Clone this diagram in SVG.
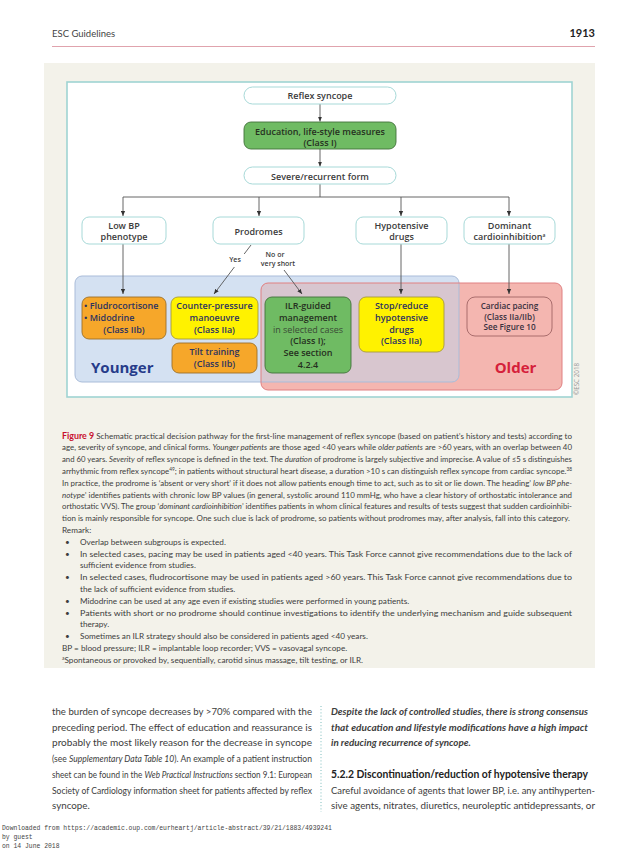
<svg xmlns="http://www.w3.org/2000/svg" width="638" height="851" viewBox="0 0 638 851">
<defs>
<style>
.n{font-family:"Open Sans","DejaVu Sans",sans-serif;font-weight:600;font-size:9px;fill:#3b3b3b;text-anchor:middle}
.nd{fill:#2c3360}
.lt{font-weight:400;fill:#444}
.box{fill:#fff;stroke:#a7d9d8;stroke-width:1}
.org{fill:#f6a72a;stroke:#9c7128;stroke-width:0.9}
.yel{fill:#fff200;stroke:#a69a3a;stroke-width:0.9}
.grn{fill:#6fbb63;stroke:#42723a;stroke-width:0.9}
.conn{stroke:#555;stroke-width:0.9;fill:none}
.cap{font-family:Lato,"Open Sans",sans-serif;font-size:8.2px;fill:#3d3d3d}
.body{font-family:Lato,"Open Sans",sans-serif;font-size:9.8px;fill:#3d3d3d}
.i{font-style:italic}
</style>
<marker id="ah" viewBox="0 0 5 5" refX="5" refY="2.5" markerWidth="5" markerHeight="5" orient="auto" markerUnits="userSpaceOnUse"><path d="M0,0.4 L5,2.5 L0,4.6 z" fill="#333"/></marker>
<clipPath id="blueclip"><rect x="75" y="276" width="384" height="106" rx="7"/></clipPath>
</defs>
<rect width="638" height="851" fill="#fff"/>
<g id="header">
<text x="52" y="36.5" font-family="Lato,sans-serif" font-size="9.5" fill="#444">ESC Guidelines</text>
<text x="595" y="36.5" font-family="Lato,sans-serif" font-size="11" font-weight="700" fill="#222" text-anchor="end">1913</text>
<line x1="52" y1="46.5" x2="595" y2="46.5" stroke="#e0a3ad" stroke-width="1"/>
</g>
<rect x="44" y="63" width="551" height="605" fill="#f3f2ea"/>
<rect x="67" y="82" width="505" height="315" fill="#fff" stroke="#9fd4d3" stroke-width="1.6"/>
<g id="regions">
<rect x="75" y="276" width="384" height="106" rx="7" fill="#d4e1f2"/>
<rect x="261" y="283" width="301" height="107" rx="7" fill="#f4b6b0"/>
<rect x="261" y="283" width="301" height="107" rx="7" fill="#d8c6cf" clip-path="url(#blueclip)"/>
<rect x="75" y="276" width="384" height="106" rx="7" fill="none" stroke="#a9bcd9" stroke-width="1"/>
<rect x="261" y="283" width="301" height="107" rx="7" fill="none" stroke="#e08082" stroke-width="1"/>
<text x="91" y="373" font-family="'Open Sans',sans-serif" font-weight="700" font-size="15" fill="#263b8a">Younger</text>
<text x="515.5" y="373" font-family="'Open Sans',sans-serif" font-weight="700" font-size="15" fill="#d5203a" text-anchor="middle">Older</text>
</g>
<g id="connectors">
<path class="conn" d="M320,104 V121.5" marker-end="url(#ah)"/>
<path class="conn" d="M320,149 V166.5" marker-end="url(#ah)"/>
<path class="conn" d="M320,184 V197 M123,197 H509"/>
<path class="conn" d="M123,197 V216" marker-end="url(#ah)"/>
<path class="conn" d="M259,197 V216" marker-end="url(#ah)"/>
<path class="conn" d="M401,197 V216" marker-end="url(#ah)"/>
<path class="conn" d="M509,197 V216" marker-end="url(#ah)"/>
<path class="conn" d="M123,244 V294" marker-end="url(#ah)"/>
<path class="conn" d="M401,244 V294" marker-end="url(#ah)"/>
<path class="conn" d="M509,244 V294" marker-end="url(#ah)"/>
<path class="conn" d="M251,245 L244.2,254"/>
<path class="conn" d="M234.4,267 L214,294" marker-end="url(#ah)"/>
<path class="conn" d="M284,270 L302,294" marker-end="url(#ah)"/>
<text x="235" y="262" font-family="'Open Sans',sans-serif" font-weight="600" font-size="7" fill="#3b3b3b" text-anchor="middle">Yes</text>
<text x="275" y="257" font-family="'Open Sans',sans-serif" font-weight="600" font-size="7" fill="#3b3b3b" text-anchor="middle">No or</text>
<text x="278" y="265.5" font-family="'Open Sans',sans-serif" font-weight="600" font-size="7" fill="#3b3b3b" text-anchor="middle">very short</text>
</g>
<g id="reflex"><rect class="box" x="244" y="87" width="152" height="17" rx="8.5"/><text class="n" x="320" y="99">Reflex syncope</text></g>
<g id="education"><rect class="grn" x="244" y="122" width="152" height="27" rx="7"/><text class="n" x="320" y="135" style="fill:#26301f">Education, life-style measures</text><text class="n" x="320" y="145.5" style="fill:#26301f">(Class I)</text></g>
<g id="severe"><rect class="box" x="244" y="167" width="152" height="17" rx="8.5"/><text class="n" x="320" y="179.5">Severe/recurrent form</text></g>
<g id="lowbp"><rect class="box" x="82" y="217" width="84" height="27" rx="7"/><text class="n" x="124" y="229">Low BP</text><text class="n" x="124" y="240">phenotype</text></g>
<g id="prodromes"><rect class="box" x="213" y="217" width="91" height="27" rx="7"/><text class="n" x="258.5" y="235">Prodromes</text></g>
<g id="hypotensive"><rect class="box" x="356" y="217" width="91" height="27" rx="7"/><text class="n" x="401.5" y="229">Hypotensive</text><text class="n" x="401.5" y="240">drugs</text></g>
<g id="dominant"><rect class="box" x="464" y="217" width="91" height="27" rx="7"/><text class="n" x="509.5" y="229">Dominant</text><text class="n" x="509.5" y="240">cardioinhibition<tspan font-size="5" dy="-3">a</tspan></text></g>
<g id="fludro"><rect class="org" x="82" y="297" width="84" height="42" rx="7"/><text class="n nd" x="84" y="308.5" style="text-anchor:start">• Fludrocortisone</text><text class="n nd" x="84" y="320.5" style="text-anchor:start">• Midodrine</text><text class="n nd" x="124" y="333">(Class IIb)</text></g>
<g id="counter"><rect class="yel" x="171" y="297" width="87" height="42" rx="7"/><text class="n nd" x="214.5" y="308.5">Counter-pressure</text><text class="n nd" x="214.5" y="320.5">manoeuvre</text><text class="n nd" x="214.5" y="333">(Class IIa)</text></g>
<g id="tilt"><rect class="org" x="172" y="343" width="85" height="30" rx="7"/><text class="n nd" x="214.5" y="355">Tilt training</text><text class="n nd" x="214.5" y="366.5">(Class IIb)</text></g>
<g id="ilr"><rect class="grn" x="265" y="297" width="86" height="76" rx="7"/><text class="n" x="308" y="309" style="fill:#26301f">ILR-guided</text><text class="n" x="308" y="321" style="fill:#26301f">management</text><text class="n lt" x="308" y="332.5" style="fill:#3a4a36">in selected cases</text><text class="n" x="308" y="344" style="fill:#26301f">(Class I);</text><text class="n" x="308" y="356" style="fill:#26301f">See section</text><text class="n" x="308" y="367.5" style="fill:#26301f">4.2.4</text></g>
<g id="stop"><rect class="yel" x="359" y="297" width="85" height="55" rx="7"/><text class="n nd" x="401.5" y="309">Stop/reduce</text><text class="n nd" x="401.5" y="321">hypotensive</text><text class="n nd" x="401.5" y="332.5">drugs</text><text class="n nd" x="401.5" y="344">(Class IIa)</text></g>
<g id="pacing"><rect x="467" y="297" width="85" height="39" rx="8" fill="none" stroke="#a06464" stroke-width="0.9"/><text class="n" x="509.5" y="309" style="font-size:8.2px;fill:#3a3140">Cardiac pacing</text><text class="n" x="509.5" y="319.5" style="font-size:8.2px;fill:#3a3140">(Class IIa/IIb)</text><text class="n" x="509.5" y="330" style="font-size:8.2px;fill:#3a3140">See Figure 10</text></g>
<text x="579" y="379" transform="rotate(-90 579 379)" font-family="'Open Sans',sans-serif" font-size="6.3" fill="#9a9a9a" text-anchor="middle">©ESC 2018</text>
<g id="caption" class="cap">
<text x="62" y="438.5" textLength="510" lengthAdjust="spacingAndGlyphs"><tspan font-weight="700" fill="#c8102e" font-size="9">Figure 9</tspan> Schematic practical decision pathway for the first-line management of reflex syncope (based on patient’s history and tests) according to</text>
<text x="62" y="450.3" textLength="510" lengthAdjust="spacingAndGlyphs">age, severity of syncope, and clinical forms. <tspan class="i">Younger patients</tspan> are those aged &lt;40 years while <tspan class="i">older patients</tspan> are &gt;60 years, with an overlap between 40</text>
<text x="62" y="462.1" textLength="510" lengthAdjust="spacingAndGlyphs">and 60 years. <tspan class="i">Severity</tspan> of reflex syncope is defined in the text. The <tspan class="i">duration</tspan> of prodrome is largely subjective and imprecise. A value of ≤5 s distinguishes</text>
<text x="62" y="473.9" textLength="510" lengthAdjust="spacingAndGlyphs">arrhythmic from reflex syncope<tspan font-size="5" dy="-3">49</tspan><tspan dy="3">; in patients without structural heart disease, a duration &gt;10 s can distinguish reflex syncope from cardiac syncope.</tspan><tspan font-size="5" dy="-3">38</tspan></text>
<text x="62" y="485.7" textLength="510" lengthAdjust="spacingAndGlyphs">In practice, the prodrome is ‘absent or very short’ if it does not allow patients enough time to act, such as to sit or lie down. The heading’ <tspan class="i">low BP phe-</tspan></text>
<text x="62" y="497.5" textLength="510" lengthAdjust="spacingAndGlyphs"><tspan class="i">notype</tspan>’ identifies patients with chronic low BP values (in general, systolic around 110 mmHg, who have a clear history of orthostatic intolerance and</text>
<text x="62" y="509.3" textLength="510" lengthAdjust="spacingAndGlyphs">orthostatic VVS). The group ‘<tspan class="i">dominant cardioinhibition</tspan>’ identifies patients in whom clinical features and results of tests suggest that sudden cardioinhibi-</text>
<text x="62" y="521.1" textLength="508" lengthAdjust="spacingAndGlyphs">tion is mainly responsible for syncope. One such clue is lack of prodrome, so patients without prodromes may, after analysis, fall into this category.</text>
<text x="62" y="532.9">Remark:</text>
<text x="65" y="544.7">•</text><text x="80" y="544.7">Overlap between subgroups is expected.</text>
<text x="65" y="556.5">•</text><text x="80" y="556.5" textLength="492" lengthAdjust="spacingAndGlyphs">In selected cases, pacing may be used in patients aged &lt;40 years. This Task Force cannot give recommendations due to the lack of</text>
<text x="80" y="568.3">sufficient evidence from studies.</text>
<text x="65" y="580.1">•</text><text x="80" y="580.1" textLength="492" lengthAdjust="spacingAndGlyphs">In selected cases, fludrocortisone may be used in patients aged &gt;60 years. This Task Force cannot give recommendations due to</text>
<text x="80" y="591.9">the lack of sufficient evidence from studies.</text>
<text x="65" y="603.7">•</text><text x="80" y="603.7">Midodrine can be used at any age even if existing studies were performed in young patients.</text>
<text x="65" y="615.5">•</text><text x="80" y="615.5" textLength="492" lengthAdjust="spacingAndGlyphs">Patients with short or no prodrome should continue investigations to identify the underlying mechanism and guide subsequent</text>
<text x="80" y="627.3">therapy.</text>
<text x="65" y="639.1">•</text><text x="80" y="639.1">Sometimes an ILR strategy should also be considered in patients aged &lt;40 years.</text>
<text x="62" y="650.9">BP = blood pressure; ILR = implantable loop recorder; VVS = vasovagal syncope.</text>
<text x="62" y="662.7"><tspan font-size="5" dy="-3">a</tspan><tspan dy="3">Spontaneous or provoked by, sequentially, carotid sinus massage, tilt testing, or ILR.</tspan></text>
</g>
<g id="bodytext" class="body">
<text x="52" y="715" textLength="260" lengthAdjust="spacingAndGlyphs">the burden of syncope decreases by &gt;70% compared with the</text>
<text x="52" y="730.7" textLength="260" lengthAdjust="spacingAndGlyphs">preceding period. The effect of education and reassurance is</text>
<text x="52" y="746.4" textLength="260" lengthAdjust="spacingAndGlyphs">probably the most likely reason for the decrease in syncope</text>
<text x="52" y="762.1" textLength="260" lengthAdjust="spacingAndGlyphs">(see <tspan class="i">Supplementary Data Table 10</tspan>). An example of a patient instruction</text>
<text x="52" y="777.8" textLength="260" lengthAdjust="spacingAndGlyphs">sheet can be found in the <tspan class="i">Web Practical Instructions</tspan> section 9.1: European</text>
<text x="52" y="793.5" textLength="260" lengthAdjust="spacingAndGlyphs">Society of Cardiology information sheet for patients affected by reflex</text>
<text x="52" y="809.2">syncope.</text>
<line x1="321" y1="706" x2="321" y2="812" stroke="#7cbcbc" stroke-width="1" stroke-dasharray="1 2.2"/>
<text x="331" y="715" font-weight="700" font-style="italic" textLength="257" lengthAdjust="spacingAndGlyphs">Despite the lack of controlled studies, there is strong consensus</text>
<text x="331" y="730.7" font-weight="700" font-style="italic" textLength="257" lengthAdjust="spacingAndGlyphs">that education and lifestyle modifications have a high impact</text>
<text x="331" y="746.4" font-weight="700" font-style="italic">in reducing recurrence of syncope.</text>
<text x="331" y="777.8" font-weight="700" font-size="10.5" textLength="257" lengthAdjust="spacingAndGlyphs" fill="#222">5.2.2 Discontinuation/reduction of hypotensive therapy</text>
<text x="331" y="793.5" textLength="264" lengthAdjust="spacingAndGlyphs">Careful avoidance of agents that lower BP, i.e. any antihyperten-</text>
<text x="331" y="809.2" textLength="264" lengthAdjust="spacingAndGlyphs">sive agents, nitrates, diuretics, neuroleptic antidepressants, or</text>
</g>
<g id="footer" font-family="'Liberation Mono',monospace" font-size="6.4" fill="#444">
<text x="2" y="830">Downloaded from https://academic.oup.com/eurheartj/article-abstract/39/21/1883/4939241</text>
<text x="2" y="839">by guest</text>
<text x="2" y="848">on 14 June 2018</text>
</g>
</svg>
